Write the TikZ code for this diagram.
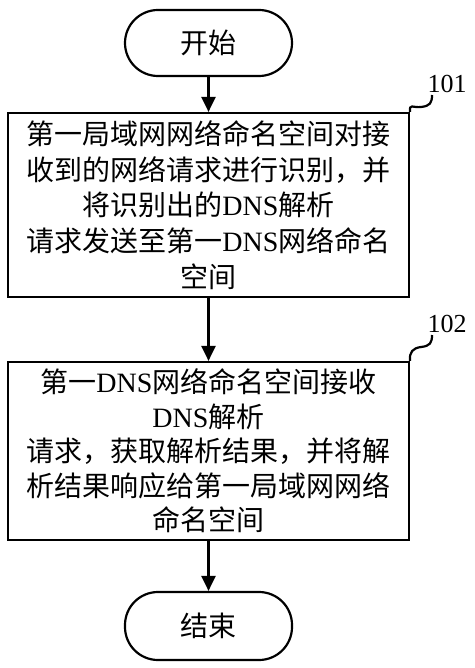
\documentclass[tikz,border=0pt]{standalone}
\usepackage{fontspec}
\setmainfont{Liberation Serif}
\newfontfamily\cjk{Noto Sans CJK SC}
\usetikzlibrary{arrows.meta}
\newcommand\lat[1]{{\rmfamily #1}}
\begin{document}
\begin{tikzpicture}[x=1pt,y=-1pt,
  term/.style={draw,line width=2.2pt,rounded corners=33pt,minimum width=167pt,inner sep=0pt,font=\cjk\fontsize{28}{32}\selectfont},
  stepbox/.style={draw,line width=2.2pt,minimum width=401pt,inner sep=0pt,align=center},
  arr/.style={line width=2.2pt,-{Triangle[length=15pt,width=14pt]}},
  lbl/.style={font=\fontsize{26}{30}\selectfont,inner sep=0pt},
  sq/.style={line width=2.2pt}]
\useasboundingbox (0,0) rectangle (474,668);
\node[term,minimum height=66pt] (start) at (208.5,43) {开始};
\node[stepbox,minimum height=184pt,font=\cjk\fontsize{28}{35.7}\selectfont] (s1) at (208.5,205)
  {第一局域网网络命名空间对接\\收到的网络请求进行识别，并\\将识别出的\lat{DNS}解析\\请求发送至第一\lat{DNS}网络命名\\空间};
\node[stepbox,minimum height=178pt,font=\cjk\fontsize{28}{34.5}\selectfont] (s2) at (208.5,451)
  {第一\lat{DNS}网络命名空间接收\\\lat{DNS}解析\\请求，获取解析结果，并将解\\析结果响应给第一局域网网络\\命名空间};
\node[term,minimum height=68pt] (end) at (208.5,626) {结束};
\draw[arr] (start) -- (s1);
\draw[arr] (s1) -- (s2);
\draw[arr] (s2) -- (end);
\node[lbl] (l101) at (447,84) {101};
\node[lbl] (l102) at (447,324) {102};
\coordinate (c101) at (432,95);
\coordinate (c102) at (432,335);
\draw[sq] (s1.north east) .. controls (409,103) and (413,108) .. (421,107) .. controls (430,106) and (432,103) .. (c101);
\draw[sq] (s2.north east) .. controls (409,352) and (413,348) .. (421,347) .. controls (430,346) and (432,343) .. (c102);
\end{tikzpicture}
\end{document}
